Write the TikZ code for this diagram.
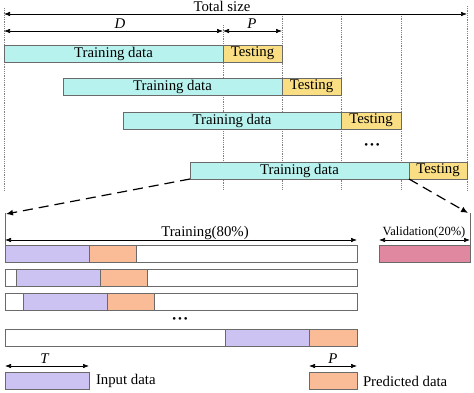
\documentclass[tikz,border=0pt]{standalone}
\usepackage{fontspec}
\setmainfont{Liberation Serif}
\usetikzlibrary{arrows.meta}
\definecolor{train}{HTML}{B8F2EE}
\definecolor{test}{HTML}{F9DE84}
\definecolor{inp}{HTML}{CDC3F2}
\definecolor{pred}{HTML}{F9BC96}
\definecolor{val}{HTML}{E0889F}
\definecolor{edge}{HTML}{6A6A6A}
\begin{document}
\begin{tikzpicture}[x=1pt,y=-1pt,
  font=\fontsize{14.8}{16}\selectfont,
  box/.style={draw=edge, line width=0.8pt, inner sep=0pt, outer sep=0pt, anchor=north west, minimum height=17pt},
  guide/.style={draw=gray, densely dotted, line width=0.8pt},
  dim/.style={{Latex[length=6pt,width=4.5pt]}-{Latex[length=6pt,width=4.5pt]}, line width=0.6pt},
  zoomline/.style={dash pattern=on 10pt off 6pt, line width=1.2pt, -{Latex[length=7pt,width=6pt]}},
  lbl/.style={inner sep=0pt, outer sep=0pt},
  dotsstyle/.style={inner sep=0pt, font=\fontsize{11}{12}\selectfont}]
\useasboundingbox (0,0) rectangle (474,393);

% guide lines
\coordinate (g0t) at (4,8);    \coordinate (g0b) at (4,190);
\coordinate (g1t) at (223,25); \coordinate (g1b) at (223,190);
\coordinate (g2t) at (282,14); \coordinate (g2b) at (282,190);
\coordinate (g3t) at (341,14); \coordinate (g3b) at (341,190);
\coordinate (g4t) at (401,14); \coordinate (g4b) at (401,190);
\coordinate (g5t) at (467,6);  \coordinate (g5b) at (467,190);
\foreach \i in {0,...,5} \draw[guide] (g\i t) -- (g\i b);

% ---------- top: sliding windows ----------
\node[box, fill=train, minimum width=219pt] (tr1) at (4,45) {Training data};
\node[box, fill=test, minimum width=59pt] (te1) at (223,45) {Testing};
\node[box, fill=train, minimum width=219pt] (tr2) at (63,78) {Training data};
\node[box, fill=test, minimum width=59pt] (te2) at (282,78) {Testing};
\node[box, fill=train, minimum width=218pt] (tr3) at (123,112) {Training data};
\node[box, fill=test, minimum width=60pt] (te3) at (341,112) {Testing};
\node[box, fill=train, minimum width=219pt] (tr4) at (190,162) {Training data};
\node[box, fill=test, minimum width=58pt] (te4) at (409,162) {Testing};
\node[dotsstyle] (dtop) at (372,146) {•\,•\,•};

% dimension arrows
\coordinate (tsL) at (4,14);  \coordinate (tsR) at (467,14);
\draw[dim] (tsL) -- (tsR);
\node[lbl] (tslabel) at (222,6) {Total size};
\coordinate (dL) at (4,31); \coordinate (dR) at (223,31); \coordinate (pR) at (282,31);
\draw[dim] (dL) -- (dR);
\draw[dim] (dR) -- (pR);
\node[lbl] (dlabel) at (120,24) {\textit{D}};
\node[lbl] (plabel) at (252,24) {\textit{P}};

% ---------- zoom lines ----------
\coordinate (zl) at (6,214);
\coordinate (zr) at (468,213);
\draw[zoomline] (tr4.south west) -- (zl);
\draw[zoomline] (tr4.south east) -- (zr);

% ---------- bottom: training / validation ----------
\coordinate (tkLt) at (5,213); \coordinate (tkLb) at (5,245);
\coordinate (tkRt) at (470,213); \coordinate (tkRb) at (470,245);
\draw[line width=0.6pt, edge] (tkLt) -- (tkLb);
\draw[line width=0.6pt, edge] (tkRt) -- (tkRb);

\coordinate (trL) at (5,240); \coordinate (trR) at (357,240);
\draw[dim] (trL) -- (trR);
\node[lbl] (trlabel) at (205,233) {Training(80\%)};
\coordinate (vL) at (379,240); \coordinate (vR) at (470,240);
\draw[dim] (vL) -- (vR);
\node[lbl, font=\fontsize{12.5}{14}\selectfont] (vlabel) at (424,232) {Validation(20\%)};

\node[box, fill=val, minimum width=91pt] (valbox) at (379,245) {};

\node[box, fill=white, minimum width=352pt] (b1) at (5,245) {};
\node[box, fill=inp, minimum width=84pt] (b1i) at (5,245) {};
\node[box, fill=pred, minimum width=47pt] (b1p) at (89,245) {};

\node[box, fill=white, minimum width=352pt] (b2) at (5,269) {};
\node[box, fill=inp, minimum width=84pt] (b2i) at (16,269) {};
\node[box, fill=pred, minimum width=47pt] (b2p) at (100,269) {};

\node[box, fill=white, minimum width=352pt] (b3) at (5,293) {};
\node[box, fill=inp, minimum width=84pt] (b3i) at (23,293) {};
\node[box, fill=pred, minimum width=47pt] (b3p) at (107,293) {};

\node[dotsstyle] (dbot) at (180,320) {•\,•\,•};

\node[box, fill=white, minimum width=352pt] (b4) at (5,329) {};
\node[box, fill=inp, minimum width=84pt] (b4i) at (225,329) {};
\node[box, fill=pred, minimum width=48pt] (b4p) at (309,329) {};

% ---------- legend ----------
\coordinate (tL) at (5,366); \coordinate (tR) at (89,366);
\draw[dim] (tL) -- (tR);
\node[lbl] (tlabel) at (45,359) {\textit{T}};
\node[box, fill=inp, minimum width=84pt] (legI) at (5,372) {};
\node[lbl, anchor=west] (legItext) at (96,381) {Input data};

\coordinate (lpL) at (309,366); \coordinate (lpR) at (357,366);
\draw[dim] (lpL) -- (lpR);
\node[lbl] (lplabel) at (333,359) {\textit{P}};
\node[box, fill=pred, minimum width=48pt] (legP) at (309,372) {};
\node[lbl, anchor=west] (legPtext) at (363,381) {Predicted data};
\end{tikzpicture}
\end{document}
